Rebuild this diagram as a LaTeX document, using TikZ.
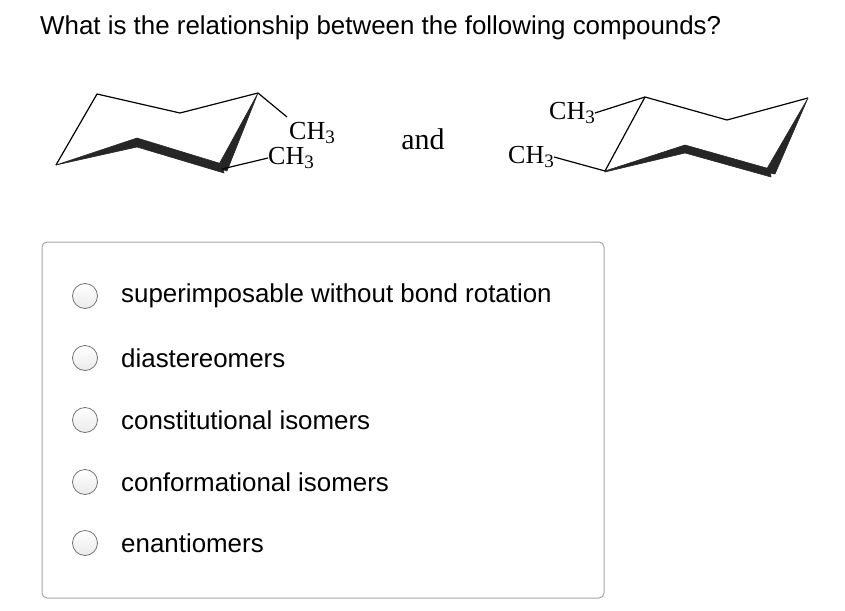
\documentclass[tikz,border=0pt]{standalone}
\usepackage{fontspec}
\setmainfont{Liberation Sans}
\newfontfamily\chem{Liberation Serif}
\newcommand{\chsub}{CH\raisebox{-0.35ex}{\fontsize{19}{19}\selectfont 3}}
\begin{document}
\begin{tikzpicture}[x=1pt,y=-1pt,
  thin bond/.style={line width=1.2pt,line join=round},
  wedge/.style={fill=black!85,draw=black!85,line width=0.6pt,line join=round},
  chemtxt/.style={font=\chem\fontsize{26}{26}\selectfont,inner sep=0pt},
  opt/.style={font=\fontsize{25.9}{30}\selectfont,anchor=west,inner sep=0pt},
  radio/.style={circle,draw=black!55,line width=0.8pt,minimum size=25pt,inner sep=0pt,top color=white,bottom color=black!8}]
\useasboundingbox (0,0) rectangle (845,610);
\node[anchor=west,inner sep=0pt,font=\fontsize{25.9}{30}\selectfont] (q) at (40,28) {What is the relationship between the following compounds?};
% left chair
\coordinate (A) at (56,165); \coordinate (B) at (97,94); \coordinate (C) at (180,113);
\coordinate (D) at (258,93); \coordinate (E) at (222,169); \coordinate (F) at (137,142);
\draw[thin bond] (A)--(B)--(C)--(D);
\fill[wedge] (A)--(137,138)--(222,164)--(224,173)--(137,147)--cycle;
\fill[wedge] (D)--(227,171)--(217,168)--cycle;
\node[chemtxt,anchor=west] (m1) at (289,133) {\chsub};
\node[chemtxt,anchor=west] (m2) at (268,158) {\chsub};
\draw[thin bond] (D)--(287,117);
\draw[thin bond] (E)--(m2.west);
\node[font=\chem\fontsize{30}{30}\selectfont,inner sep=0pt] (and) at (423,139) {and};
% right chair
\coordinate (P) at (605,171); \coordinate (Q) at (645,97); \coordinate (R) at (727,120);
\coordinate (S) at (808,98); \coordinate (T) at (770,175); \coordinate (U) at (685,148);
\draw[thin bond] (P)--(Q)--(R)--(S);
\fill[wedge] (P)--(685,145)--(770,169)--(771,177)--(685,153)--(605,172)--cycle;
\fill[wedge] (S)--(775,174)--(765,172)--cycle;
\node[chemtxt,anchor=east] (m3) at (595,113) {\chsub};
\node[chemtxt,anchor=east] (m4) at (554,157) {\chsub};
\draw[thin bond] (Q)--(m3.east);
\draw[thin bond] (P)--(m4.east);
% answer box
\draw[black!35,line width=1pt,rounded corners=5pt] (42,242) rectangle (604,598);
\foreach \y/\t [count=\i] in {296/superimposable without bond rotation,358/diastereomers,420/constitutional isomers,482/conformational isomers,543/enantiomers}{
  \node[radio] (r\i) at (85,\y) {};
  \node[opt] (o\i) at (121,\y) {\t};
}
\end{tikzpicture}
\end{document}
